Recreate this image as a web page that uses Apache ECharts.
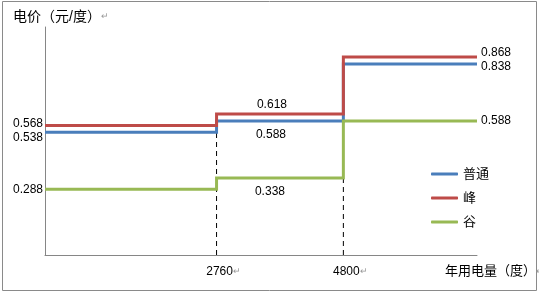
<!DOCTYPE html>
<html>
<head>
<meta charset="utf-8">
<script src="https://cdn.jsdelivr.net/npm/echarts@6/dist/echarts.min.js"></script>
<style>html,body{margin:0;padding:0;background:#fff}#c{width:539px;height:293px}</style>
</head>
<body>
<div id="c"></div>
<script>
// ---- data ----
const breaks = [0, 2760, 4800, 6950];      // usage tier boundaries (last = axis end)
const tickValues = [2760, 4800];
const seriesNames = ['普通', '峰', '谷'];
const putong = [0.538, 0.588, 0.838];
const feng = [0.568, 0.618, 0.868];
const gu = [0.288, 0.338, 0.588];
const guideTops = [0.538, 0.338];          // heights of dashed guides at tickValues
const yMax = 1.0;
const xTitle = '年用电量（度）';
const yTitle = '电价（元/度）';

const colors = ['#4A7EBB', '#BE4B48', '#98B954'];
const FONT = '"Liberation Sans", "Noto Sans CJK SC", sans-serif';

function stepData(vals) {
  return [[breaks[0], vals[0]], [breaks[1], vals[1]], [breaks[2], vals[2]], [breaks[3], vals[2]]];
}
function lbl(x, y, position, distance, offset) {
  return {
    coord: [x, y], value: y,
    label: { show: true, position: position, distance: distance, offset: offset || [0, 0],
      formatter: function (p) { return Number(p.value).toFixed(3); },
      color: '#000', fontSize: 12, fontFamily: FONT }
  };
}
const mid = (breaks[1] + breaks[2]) / 2;
// label layouts per series: [left, middle, right]
const labelCfg = [
  [['left', 2, [0, 5]], ['bottom', 8, [-9, 0]], ['right', 4, [0, 3]]],
  [['left', 2, [0, -2]], ['top', 3, [-8, 0]], ['right', 4, [0, -4]]],
  [['left', 2, [0, 0]], ['bottom', 8, [-10, 0]], ['right', 4, [0, 0]]]
];
const allVals = [putong, feng, gu];

const series = [];
tickValues.forEach(function (t, i) {
  series.push({
    type: 'line', name: 'guide' + i, data: [[t, 0], [t, guideTops[i]]],
    symbol: 'none', silent: true, z: 1,
    lineStyle: { color: '#000', width: 1, type: [5, 4] }
  });
});
allVals.forEach(function (vals, k) {
  const c = labelCfg[k];
  const mps = [
    lbl(breaks[0], vals[0], c[0][0], c[0][1], c[0][2]),
    lbl(mid, vals[1], c[1][0], c[1][1], c[1][2]),
    lbl(breaks[3], vals[2], c[2][0], c[2][1], c[2][2])
  ];
  series.push({
    type: 'line', name: seriesNames[k], data: stepData(vals), step: 'end',
    symbol: 'none', z: 3 + k, color: colors[k],
    lineStyle: { color: colors[k], width: 3, cap: 'butt', join: 'miter' },
    markPoint: { symbol: 'circle', symbolSize: 0, silent: true, data: mps }
  });
});

const chart = echarts.init(document.getElementById('c'), null, { renderer: 'canvas' });
chart.setOption({
  animation: false,
  backgroundColor: '#fff',
  textStyle: { fontFamily: FONT },
  title: {
    text: yTitle + '{m|↵}', left: 13, top: 10, padding: 0,
    textStyle: { fontSize: 14, fontWeight: 'normal', color: '#000', fontFamily: FONT,
      rich: { m: { fontSize: 9, color: '#999' } } }
  },
  graphic: [{
    type: 'rect', silent: true, z: -10,
    shape: { x: 2.5, y: 1.5, width: 534, height: 289 },
    style: { fill: null, stroke: '#8a8a8a', lineWidth: 1 }
  }],
  legend: {
    data: seriesNames, orient: 'vertical', left: 431, top: 167, padding: 0,
    icon: 'roundRect', itemWidth: 27, itemHeight: 3, itemGap: 10,
    textStyle: { fontSize: 13, lineHeight: 14, color: '#000', fontFamily: FONT }
  },
  grid: { left: 45, right: 62, top: 27, bottom: 38, containLabel: false, outerBoundsMode: 'none' },
  xAxis: {
    type: 'value', min: breaks[0], max: breaks[3],
    splitLine: { show: false },
    axisLine: { show: true, lineStyle: { color: '#868686', width: 1 } },
    axisTick: { show: false },
    axisLabel: {
      show: true, customValues: tickValues, margin: 11, color: '#000', fontSize: 12, fontFamily: FONT,
      padding: [0, 0, 0, 14],
      formatter: function (v) { return v + '{m|↵}'; },
      rich: { m: { fontSize: 9, color: '#999' } }
    },
    name: xTitle + '{m|↵}', nameLocation: 'end', nameGap: -32,
    nameTextStyle: { align: 'left', verticalAlign: 'top', padding: [10, 0, 0, 0],
      fontSize: 13, color: '#000', fontFamily: FONT, rich: { m: { fontSize: 9, color: '#999' } } }
  },
  yAxis: {
    type: 'value', min: 0, max: yMax,
    splitLine: { show: false },
    axisLine: { show: true, lineStyle: { color: '#868686', width: 1 } },
    axisTick: { show: false },
    axisLabel: { show: false }
  },
  series: series
});
</script>
</body>
</html>
